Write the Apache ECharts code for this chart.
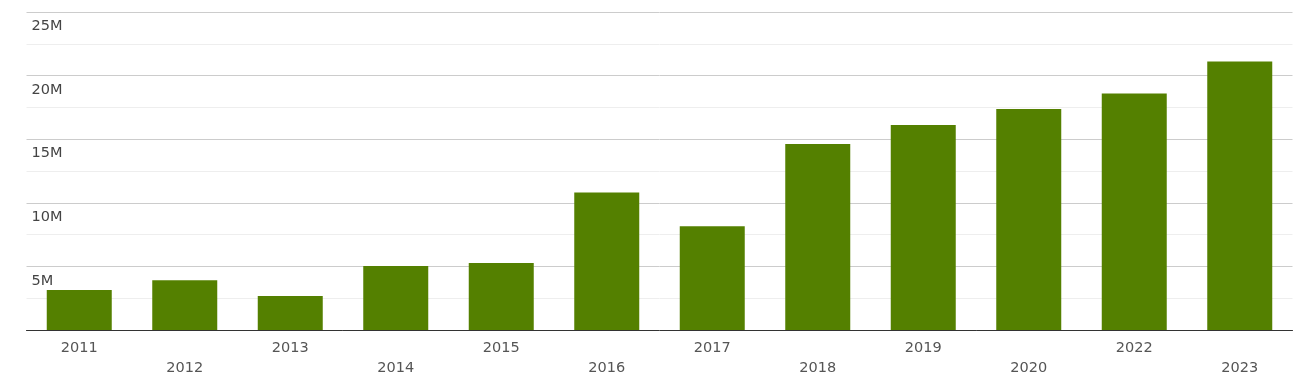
<!DOCTYPE html>
<html>
<head>
<meta charset="utf-8">
<script src="https://cdn.jsdelivr.net/npm/echarts@6/dist/echarts.min.js"></script>
<style>html,body{margin:0;padding:0;background:#fff}#c{width:1293px;height:384px}</style>
</head>
<body>
<div id="c"></div>
<script>
const categories = ['2011','2012','2013','2014','2015','2016','2017','2018','2019','2020','2022','2023'];
const values = [3.14, 3.92, 2.67, 5.03, 5.27, 10.81, 8.16, 14.62, 16.12, 17.37, 18.59, 21.1];
const yTicks = [0, 5, 10, 15, 20, 25];

const chart = echarts.init(document.getElementById('c'));
chart.setOption({
  animation: false,
  grid: { left: 26.5, right: 0.5, top: 12, bottom: 54, containLabel: false },
  xAxis: {
    type: 'category',
    data: categories,
    z: 5,
    axisLine: { lineStyle: { color: '#333', width: 1 } },
    axisTick: { show: false },
    axisLabel: {
      interval: 0,
      margin: 8,
      fontFamily: 'DejaVu Sans',
      fontSize: 14.5,
      lineHeight: 20,
      color: '#555',
      formatter: (v, i) => (i % 2 ? '\n' + v : v)
    }
  },
  yAxis: {
    type: 'value',
    min: yTicks[0],
    max: yTicks[yTicks.length - 1],
    interval: 5,
    axisLine: { show: false },
    axisTick: { show: false },
    splitLine: { lineStyle: { color: '#ccc', width: 1 } },
    minorTick: { show: false, splitNumber: 2 },
    minorSplitLine: { show: true, lineStyle: { color: '#eee', width: 1 } },
    axisLabel: {
      inside: true,
      margin: 5,
      fontFamily: 'DejaVu Sans',
      fontSize: 14.5,
      color: '#444',
      verticalAlign: 'top',
      padding: [7, 0, 0, 0],
      formatter: v => (v === 0 ? '' : v + 'M')
    }
  },
  series: [{
    type: 'bar',
    data: values,
    barWidth: 65,
    itemStyle: { color: '#548000' }
  }]
});
</script>
</body>
</html>
